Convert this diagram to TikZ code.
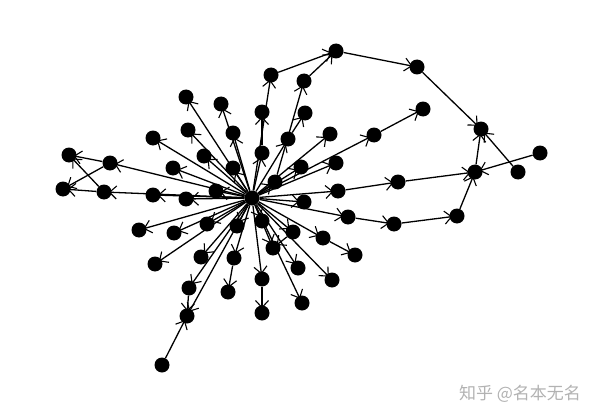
\documentclass[tikz,border=0pt]{standalone}
\usepackage{tikz}
\usetikzlibrary{arrows.meta, backgrounds}
\usepackage{fontspec}
\newfontfamily\cjkfont{Noto Sans CJK SC}

\begin{document}
\begin{tikzpicture}[x=1pt, y=-1pt,
	vertex/.style={circle, fill=black, inner sep=0pt, minimum size=15pt},
	edge/.style={line width=1.3pt, -{Straight Barb[length=7pt, width=13pt, line width=1.1pt]}, shorten >=-3pt}]
	\useasboundingbox (0,0) rectangle (600,420);
	% hub
	\node [vertex] (v0) at (252,198) {};
	% upper half
	\node [vertex] (v1) at (336,51) {};
	\node [vertex] (v2) at (417,67) {};
	\node [vertex] (v3) at (271,75) {};
	\node [vertex] (v4) at (304,81) {};
	\node [vertex] (v5) at (186,97) {};
	\node [vertex] (v6) at (221,104) {};
	\node [vertex] (v7) at (262,112) {};
	\node [vertex] (v8) at (305,113) {};
	\node [vertex] (v9) at (423,109) {};
	\node [vertex] (v10) at (188,130) {};
	\node [vertex] (v11) at (233,133) {};
	\node [vertex] (v12) at (153,138) {};
	\node [vertex] (v13) at (288,139) {};
	\node [vertex] (v14) at (330,134) {};
	\node [vertex] (v15) at (374,135) {};
	\node [vertex] (v16) at (481,129) {};
	\node [vertex] (v17) at (69,155) {};
	\node [vertex] (v18) at (110,163) {};
	\node [vertex] (v19) at (204,156) {};
	\node [vertex] (v20) at (262,153) {};
	\node [vertex] (v21) at (301,167) {};
	\node [vertex] (v22) at (336,163) {};
	\node [vertex] (v23) at (173,168) {};
	\node [vertex] (v24) at (233,168) {};
	\node [vertex] (v25) at (275,182) {};
	\node [vertex] (v26) at (540,153) {};
	\node [vertex] (v27) at (475,172) {};
	\node [vertex] (v28) at (518,172) {};
	\node [vertex] (v29) at (63,189) {};
	\node [vertex] (v30) at (104,192) {};
	\node [vertex] (v31) at (153,195) {};
	\node [vertex] (v32) at (186,199) {};
	\node [vertex] (v33) at (216,191) {};
	\node [vertex] (v34) at (338,191) {};
	\node [vertex] (v35) at (398,182) {};
	% lower half
	\node [vertex] (v36) at (304,202) {};
	\node [vertex] (v37) at (348,217) {};
	\node [vertex] (v38) at (262,221) {};
	\node [vertex] (v39) at (237,226) {};
	\node [vertex] (v40) at (207,224) {};
	\node [vertex] (v41) at (139,230) {};
	\node [vertex] (v42) at (174,233) {};
	\node [vertex] (v43) at (293,232) {};
	\node [vertex] (v44) at (394,224) {};
	\node [vertex] (v45) at (457,216) {};
	\node [vertex] (v46) at (323,238) {};
	\node [vertex] (v47) at (273,248) {};
	\node [vertex] (v48) at (355,255) {};
	\node [vertex] (v49) at (201,257) {};
	\node [vertex] (v50) at (234,258) {};
	\node [vertex] (v51) at (155,264) {};
	\node [vertex] (v52) at (298,268) {};
	\node [vertex] (v53) at (262,279) {};
	\node [vertex] (v54) at (332,280) {};
	\node [vertex] (v55) at (189,288) {};
	\node [vertex] (v56) at (228,292) {};
	\node [vertex] (v57) at (302,303) {};
	\node [vertex] (v58) at (262,313) {};
	\node [vertex] (v59) at (187,316) {};
	\node [vertex] (v60) at (162,365) {};
	\begin{scope}[on background layer]
	\draw [edge] (v0) -- (v3);
	\draw [edge] (v3) -- (v1);
	\draw [edge] (v0) -- (v25);
	\draw [edge] (v25) -- (v4);
	\draw [edge] (v4) -- (v1);
	\draw [edge] (v1) -- (v2);
	\draw [edge] (v2) -- (v16);
	\draw [edge] (v28) -- (v16);
	\draw [edge] (v27) -- (v16);
	\draw [edge] (v26) -- (v27);
	\draw [edge] (v35) -- (v27);
	\draw [edge] (v45) -- (v27);
	\draw [edge] (v0) -- (v34);
	\draw [edge] (v34) -- (v35);
	\draw [edge] (v0) -- (v37);
	\draw [edge] (v37) -- (v44);
	\draw [edge] (v44) -- (v45);
	\draw [edge] (v0) -- (v15);
	\draw [edge] (v15) -- (v9);
	\draw [edge] (v0) -- (v14);
	\draw [edge] (v0) -- (v13);
	\draw [edge] (v13) -- (v8);
	\draw [edge] (v0) -- (v20);
	\draw [edge] (v20) -- (v7);
	\draw [edge] (v0) -- (v21);
	\draw [edge] (v0) -- (v22);
	\draw [edge] (v0) -- (v5);
	\draw [edge] (v0) -- (v6);
	\draw [edge] (v0) -- (v10);
	\draw [edge] (v0) -- (v11);
	\draw [edge] (v0) -- (v12);
	\draw [edge] (v0) -- (v19);
	\draw [edge] (v0) -- (v23);
	\draw [edge] (v0) -- (v24);
	\draw [edge] (v0) -- (v18);
	\draw [edge] (v0) -- (v30);
	\draw [edge] (v18) -- (v17);
	\draw [edge] (v18) -- (v29);
	\draw [edge] (v30) -- (v17);
	\draw [edge] (v30) -- (v29);
	\draw [edge] (v0) -- (v31);
	\draw [edge] (v0) -- (v32);
	\draw [edge] (v0) -- (v33);
	\draw [edge] (v0) -- (v36);
	\draw [edge] (v0) -- (v38);
	\draw [edge] (v0) -- (v39);
	\draw [edge] (v0) -- (v40);
	\draw [edge] (v0) -- (v41);
	\draw [edge] (v0) -- (v42);
	\draw [edge] (v0) -- (v43);
	\draw [edge] (v43) -- (v47);
	\draw [edge] (v0) -- (v47);
	\draw [edge] (v0) -- (v46);
	\draw [edge] (v46) -- (v48);
	\draw [edge] (v0) -- (v49);
	\draw [edge] (v0) -- (v50);
	\draw [edge] (v50) -- (v56);
	\draw [edge] (v0) -- (v51);
	\draw [edge] (v0) -- (v52);
	\draw [edge] (v0) -- (v53);
	\draw [edge] (v53) -- (v58);
	\draw [edge] (v0) -- (v54);
	\draw [edge] (v0) -- (v55);
	\draw [edge] (v55) -- (v59);
	\draw [edge] (v0) -- (v57);
	\draw [edge] (v0) -- (v59);
	\draw [edge] (v60) -- (v59);
	\end{scope}
	% watermark
	\node [text=black!30, font=\cjkfont\fontsize{17}{17}\selectfont] (mark) at (520,394) {知乎 @名本无名};
\end{tikzpicture}
\end{document}
